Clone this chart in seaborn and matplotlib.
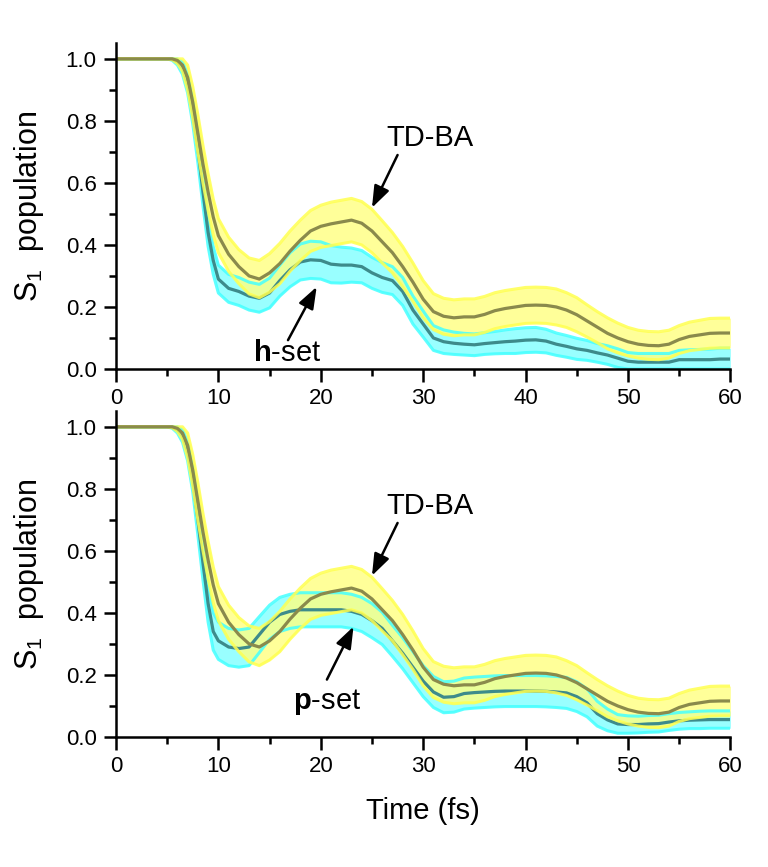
import numpy as np
import pandas as pd
import matplotlib
matplotlib.use('Agg')
import matplotlib.pyplot as plt
from matplotlib.ticker import MultipleLocator, AutoMinorLocator
import seaborn as sns

# time grid (fs)
t = [0, 5, 5.5, 6, 6.5, 7, 7.5, 8, 8.5, 9, 9.5, 10, 11, 12, 13, 14, 15, 16, 17, 18,
     19, 20, 21, 22, 23, 24, 25, 26, 27, 28, 29, 30, 31, 32, 33, 34, 35, 36, 37, 38,
     39, 40, 41, 42, 43, 44, 45, 46, 47, 48, 49, 50, 51, 52, 53, 54, 55, 56, 57, 58, 59, 60]

# TD-BA mean S1 population and spread
tdba = [1.0, 1.0, 1.0, 0.995, 0.98, 0.94, 0.86, 0.76, 0.66, 0.57, 0.49, 0.43, 0.37, 0.33, 0.30, 0.29, 0.31, 0.34, 0.38, 0.415,
        0.445, 0.46, 0.468, 0.474, 0.48, 0.47, 0.445, 0.41, 0.375, 0.33, 0.28, 0.225, 0.185, 0.17, 0.165, 0.168, 0.168, 0.176, 0.188, 0.195,
        0.2, 0.205, 0.206, 0.205, 0.2, 0.19, 0.175, 0.155, 0.135, 0.115, 0.1, 0.088, 0.08, 0.076, 0.075, 0.08, 0.095, 0.105, 0.11, 0.115, 0.116, 0.116]
tdba_sd = [0, 0, 0.003, 0.01, 0.02, 0.04, 0.05, 0.06, 0.06, 0.06, 0.058, 0.055, 0.055, 0.055, 0.058, 0.06, 0.062, 0.065, 0.065, 0.065,
           0.066, 0.068, 0.07, 0.07, 0.07, 0.07, 0.07, 0.068, 0.065, 0.065, 0.062, 0.06, 0.058, 0.058, 0.058, 0.058, 0.058, 0.058, 0.058, 0.058,
           0.058, 0.058, 0.058, 0.058, 0.058, 0.056, 0.055, 0.052, 0.05, 0.05, 0.048, 0.046, 0.045, 0.045, 0.045, 0.045, 0.045, 0.046, 0.047, 0.048, 0.048, 0.048]

# h-set
hset = [1.0, 1.0, 0.998, 0.99, 0.97, 0.92, 0.83, 0.71, 0.57, 0.44, 0.35, 0.29, 0.26, 0.25, 0.235, 0.228, 0.245, 0.285, 0.32, 0.345,
        0.352, 0.35, 0.338, 0.335, 0.335, 0.33, 0.31, 0.295, 0.285, 0.25, 0.19, 0.145, 0.1, 0.088, 0.083, 0.08, 0.078, 0.082, 0.085, 0.088,
        0.09, 0.093, 0.094, 0.09, 0.08, 0.073, 0.065, 0.06, 0.052, 0.045, 0.035, 0.025, 0.022, 0.022, 0.022, 0.022, 0.03, 0.03, 0.03, 0.03, 0.032, 0.032]
hset_sd = [0, 0, 0.003, 0.01, 0.02, 0.03, 0.04, 0.045, 0.045, 0.045, 0.045, 0.045, 0.045, 0.045, 0.045, 0.045, 0.048, 0.05, 0.055, 0.058,
           0.06, 0.06, 0.06, 0.058, 0.055, 0.052, 0.05, 0.048, 0.045, 0.045, 0.045, 0.042, 0.04, 0.038, 0.036, 0.035, 0.035, 0.035, 0.036, 0.038,
           0.04, 0.04, 0.04, 0.038, 0.036, 0.035, 0.034, 0.032, 0.03, 0.03, 0.03, 0.028, 0.028, 0.028, 0.028, 0.028, 0.03, 0.032, 0.033, 0.034, 0.035, 0.035]

# p-set
pset = [1.0, 1.0, 0.998, 0.99, 0.97, 0.92, 0.83, 0.70, 0.56, 0.43, 0.34, 0.31, 0.29, 0.285, 0.29, 0.33, 0.37, 0.395, 0.405, 0.41,
        0.41, 0.41, 0.41, 0.41, 0.405, 0.395, 0.375, 0.35, 0.31, 0.27, 0.225, 0.18, 0.145, 0.128, 0.13, 0.14, 0.143, 0.145, 0.147, 0.148,
        0.148, 0.148, 0.148, 0.147, 0.145, 0.142, 0.13, 0.11, 0.075, 0.055, 0.042, 0.04, 0.04, 0.042, 0.043, 0.048, 0.052, 0.054, 0.055, 0.056, 0.056, 0.056]
pset_sd = [0, 0, 0.003, 0.01, 0.02, 0.03, 0.04, 0.05, 0.055, 0.06, 0.06, 0.06, 0.06, 0.06, 0.06, 0.058, 0.055, 0.055, 0.055, 0.055,
           0.055, 0.055, 0.055, 0.055, 0.055, 0.055, 0.055, 0.052, 0.05, 0.05, 0.05, 0.05, 0.05, 0.05, 0.05, 0.05, 0.05, 0.05, 0.05, 0.05,
           0.05, 0.05, 0.05, 0.05, 0.05, 0.05, 0.048, 0.045, 0.04, 0.035, 0.03, 0.028, 0.027, 0.027, 0.027, 0.027, 0.027, 0.027, 0.028, 0.028, 0.028, 0.028]

set_names = ['h-set', 'p-set']

sns.set_style('ticks')
plt.rcParams['font.family'] = ['Liberation Sans', 'DejaVu Sans']
plt.rcParams['text.color'] = 'black'
plt.rcParams['axes.labelcolor'] = 'black'
plt.rcParams['mathtext.fontset'] = 'custom'
plt.rcParams['mathtext.rm'] = 'Liberation Sans'
plt.rcParams['mathtext.it'] = 'Liberation Sans:italic'
plt.rcParams['mathtext.bf'] = 'Liberation Sans:bold'

fig = plt.figure(figsize=(7.68, 8.67), dpi=100)
ax_top = fig.add_axes([0.151, 0.5744, 0.80, 0.3756])
ax_bot = fig.add_axes([0.151, 0.150, 0.80, 0.3756])

df = pd.DataFrame({'t': t, 'tdba': tdba, 'tdba_sd': tdba_sd,
                   'hset': hset, 'hset_sd': hset_sd,
                   'pset': pset, 'pset_sd': pset_sd})


def band(ax, col, sdcol, face, edge, line, alpha):
    lo = (df[col] - df[sdcol]).clip(lower=0)
    hi = (df[col] + df[sdcol]).clip(upper=1.0)
    ax.fill_between(df.t, lo, hi, facecolor=face, alpha=alpha, lw=0)
    ax.plot(df.t, lo, color=edge, lw=2.2, alpha=0.85, solid_joinstyle='round')
    ax.plot(df.t, hi, color=edge, lw=2.2, alpha=0.85, solid_joinstyle='round')
    sns.lineplot(data=df, x='t', y=col, color=line, lw=2.3, ax=ax)


arrow = dict(arrowstyle='-|>,head_length=0.6,head_width=0.22', color='black', lw=1.8,
             mutation_scale=22, shrinkA=0, shrinkB=0)

for ax, col in [(ax_top, 'hset'), (ax_bot, 'pset')]:
    band(ax, col, col + '_sd', '#80ffff', '#44ffff', '#3d8b8b', 0.8)
    band(ax, 'tdba', 'tdba_sd', '#ffff80', '#ffff50', '#8a8a4c', 0.8)

    ax.set_xlim(0, 60)
    ax.set_ylim(0, 1.05)
    ax.xaxis.set_major_locator(MultipleLocator(10))
    ax.xaxis.set_minor_locator(AutoMinorLocator(2))
    ax.set_yticks([0, 0.2, 0.4, 0.6, 0.8, 1.0])
    ax.set_yticklabels(['0.0', '0.2', '0.4', '0.6', '0.8', '1.0'])
    ax.yaxis.set_minor_locator(AutoMinorLocator(2))
    ax.tick_params(which='major', direction='out', length=9, width=1.8, labelsize=16, pad=5,
                   color='black', labelcolor='black')
    ax.tick_params(which='minor', direction='out', length=5, width=1.8, color='black')
    for s in ['top', 'right']:
        ax.spines[s].set_visible(False)
    for s in ['left', 'bottom']:
        ax.spines[s].set_linewidth(1.8)
        ax.spines[s].set_color('black')
    ax.set_ylabel(r'S$_1$  population', fontsize=22, labelpad=14, color='black')
    ax.set_xlabel('')

    ax.annotate('', xy=(25.0, 0.52), xytext=(27.5, 0.69), arrowprops=arrow)
    ax.text(30.7, 0.745, 'TD-BA', fontsize=21, ha='center', va='center', color='black')

tail = {'h-set': ((16.8, 0.093), (19.6, 0.265), (16.7, 0.05)),
        'p-set': ((20.6, 0.185), (23.2, 0.356), (20.6, 0.113))}
for ax, name in [(ax_top, set_names[0]), (ax_bot, set_names[1])]:
    (x0, y0), (x1, y1), (tx, ty) = tail[name]
    ax.annotate('', xy=(x1, y1), xytext=(x0, y0), arrowprops=arrow)
    ax.text(tx, ty, r'$\mathbf{' + name[0] + '}$' + name[1:], fontsize=21, ha='center', va='center', color='black')

ax_bot.set_xlabel('Time (fs)', fontsize=21, labelpad=14, color='black')

fig.savefig('out.png', dpi=100)
